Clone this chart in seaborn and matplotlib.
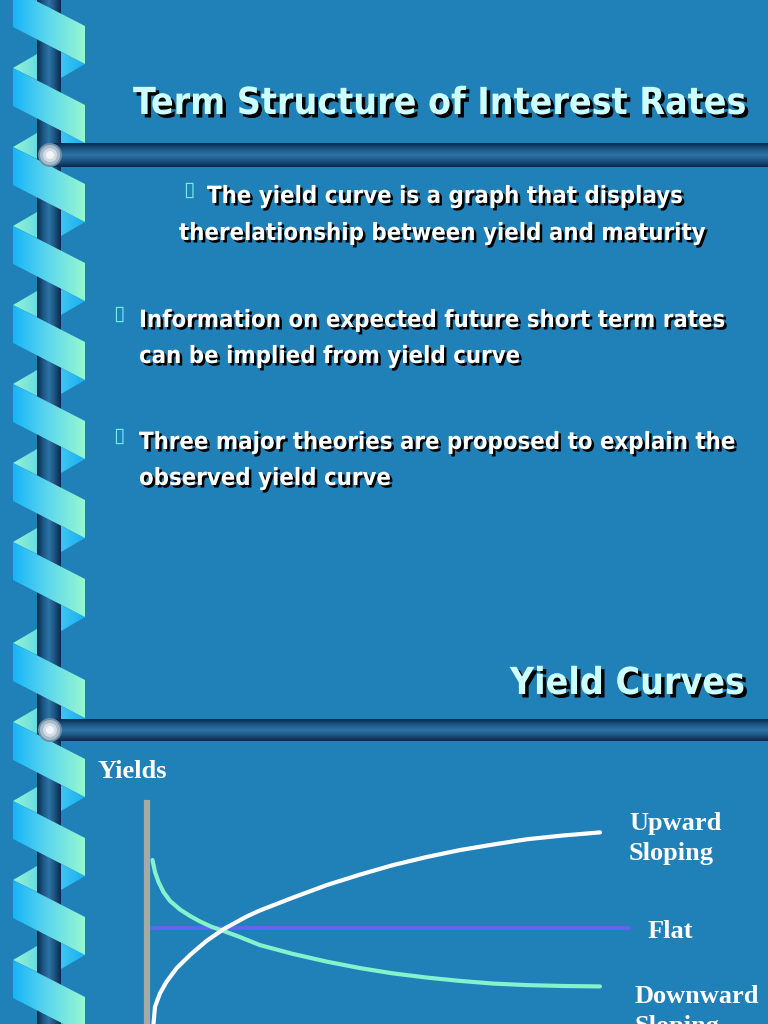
import matplotlib
matplotlib.use("Agg")
import matplotlib.pyplot as plt
import matplotlib.patheffects as pe
import numpy as np
import pandas as pd
import seaborn as sns
from matplotlib import font_manager
from matplotlib.colors import LinearSegmentedColormap
from matplotlib.patches import Circle, PathPatch
from matplotlib.path import Path


BG = "#2080b8"

TITLE = "Term Structure of Interest Rates"
SUBTITLE = "Yield Curves"
BULLET_LINES = [
    # (x_px, baseline_px, right_px, text, bullet_x_px)
    (207, 203, 678, "The yield curve is a graph that displays", 183),
    (179, 240, 706, "therelationship between yield and maturity", None),
    (139, 327, 720, "Information on expected future short term rates", 113),
    (139, 363, 520, "can be implied from yield curve", None),
    (139, 449, 733, "Three major theories are proposed to explain the", 113),
    (139, 485, 391, "observed yield curve", None),
]

# yield curves (maturity, yield), arbitrary units
UP_MAT = [0.13, 0.16, 0.26, 0.39, 0.59, 0.86, 1.19, 1.53, 1.99, 2.26,
          2.92, 3.60, 4.26, 4.92, 5.60, 6.26, 6.92, 7.60, 8.32, 9.06]
UP_YLD = [0.00, 0.78, 1.39, 1.91, 2.52, 3.12, 3.76, 4.29, 4.86, 5.14,
          5.72, 6.29, 6.76, 7.19, 7.56, 7.87, 8.12, 8.36, 8.53, 8.67]
DOWN_MAT = [0.11, 0.16, 0.23, 0.33, 0.46, 0.66, 0.86, 1.06, 1.29, 1.53, 1.83,
            2.26, 2.92, 3.60, 4.26, 4.92, 5.60, 6.26, 6.92, 7.60, 8.32, 9.06]
DOWN_YLD = [7.42, 6.88, 6.43, 5.97, 5.57, 5.18, 4.89, 4.64, 4.40, 4.21, 3.96,
            3.57, 3.17, 2.82, 2.53, 2.29, 2.10, 1.95, 1.83, 1.76, 1.72, 1.70]
FLAT_MAT = [0.09, 9.63]
FLAT_YLD = [4.33, 4.33]

CURVE_LABELS = [
    # (x_px, baseline_px, text)
    (629, 830, "Upward"),
    (629, 860, "Sloping"),
    (648, 938, "Flat"),
    (635, 1003, "Downward"),
    (635, 1033, "Sloping"),
]

RIBBON_TOPS_1 = [-11, 68, 147, 226, 305, 384, 463, 542]
RIBBON_TOPS_2 = [643, 722, 801, 880, 960, 1039]

SERIF_FONT = ["Liberation Serif", "DejaVu Serif"]


def head_font():
    # narrowest bold sans we can find, Impact is not around
    for fam, stretch in [("Liberation Sans Narrow", "normal"), ("DejaVu Sans", "condensed")]:
        try:
            path = font_manager.findfont(
                font_manager.FontProperties(family=fam, weight="bold", stretch=stretch),
                fallback_to_default=False)
        except ValueError:
            continue
        if fam != "DejaVu Sans" or "Condensed" in path:
            return dict(family=fam, stretch=stretch)
    return dict(family="DejaVu Sans", stretch="normal")


def ribbon_polys(tops):
    front, back = [], []
    for y0 in tops:
        front.append([(13, y0), (85, y0 + 37), (85, y0 + 75), (13, y0 + 38)])
        back.append([(13, y0), (37, y0 - 14), (37, y0 + 12)])
        back.append([(85, y0 + 75), (61, y0 + 63), (61, y0 + 89)])
    return front, back


def compound(polys, ax):
    paths = [Path(p + [p[0]], closed=True) for p in polys]
    return PathPatch(Path.make_compound_path(*paths), transform=ax.transData,
                     facecolor="none", edgecolor="none")


def draw_decor(bg):
    grad = np.linspace(0, 1, 256).reshape(1, -1)
    front_cmap = LinearSegmentedColormap.from_list("front", ["#18b4f8", "#60d8ec", "#96f8d0"])
    back_cmap = LinearSegmentedColormap.from_list("back", ["#96f4d0", "#50d0ee", "#18b0f4"])
    pole_cmap = LinearSegmentedColormap.from_list(
        "pole", ["#082a48", "#1a5686", "#2e74a4", "#1a5282", "#082a48"])

    front, back = ribbon_polys(RIBBON_TOPS_1 + RIBBON_TOPS_2)

    im = bg.imshow(grad, cmap=back_cmap, extent=(13, 85, 1024, 0), aspect="auto", zorder=1)
    im.set_clip_path(compound(back, bg))

    # vertical pole
    bg.imshow(grad, cmap=pole_cmap, extent=(37, 61, 1024, 0), aspect="auto", zorder=2)

    im = bg.imshow(grad, cmap=front_cmap, extent=(13, 85, 1024, 0), aspect="auto", zorder=3)
    im.set_clip_path(compound(front, bg))

    # horizontal bars with a knob at the pole
    for top, bottom, cy in [(143, 167, 155), (719, 741, 730)]:
        bg.imshow(grad.T, cmap=pole_cmap, extent=(50, 768, bottom, top), aspect="auto", zorder=4)
        for r, c in [(12, "#6f8fa8"), (10, "#a8bccc"), (7, "#d0dce6"), (4, "#f2f6fa")]:
            bg.add_patch(Circle((50, cy), r, facecolor=c, edgecolor="none", zorder=5))


def fit_width(fig, texts, widths):
    # scale a group of texts to one size so they span the widths seen in the slide
    renderer = fig.canvas.get_renderer()
    measured = sum(t.get_window_extent(renderer).width for t in texts)
    size = texts[0].get_fontsize() * sum(widths) / measured
    for t in texts:
        t.set_fontsize(size)


def draw_text(fig, bg):
    hf = head_font()
    shadow_big = [pe.SimplePatchShadow(offset=(2.5, -2.5), shadow_rgbFace="black", alpha=1.0), pe.Normal()]
    shadow_small = [pe.SimplePatchShadow(offset=(1.8, -1.8), shadow_rgbFace="black", alpha=1.0), pe.Normal()]

    heads = [
        bg.text(133, 114, TITLE, weight="bold", fontsize=35, color="#ccffff",
                va="baseline", ha="left", path_effects=shadow_big, zorder=6, **hf),
        bg.text(745, 694, SUBTITLE, weight="bold", fontsize=35, color="#ccffff",
                va="baseline", ha="right", path_effects=shadow_big, zorder=6, **hf),
    ]
    fit_width(fig, heads, [612, 237])

    lines = []
    for x, y, right, line, bx in BULLET_LINES:
        lines.append(bg.text(x, y, line, weight="bold", fontsize=22, color="white",
                             va="baseline", ha="left", path_effects=shadow_small, zorder=6, **hf))
        if bx is not None:
            bg.text(bx, y - 7, "\u25af", family="DejaVu Sans", fontsize=15,
                    color="#70eef0", va="baseline", ha="left", zorder=6)
    fit_width(fig, lines, [right - x for x, _, right, _, _ in BULLET_LINES])

    bg.text(98, 778, "Yields", family=SERIF_FONT, weight="bold", fontsize=19,
            color="white", va="baseline", ha="left", zorder=6)
    for x, y, label in CURVE_LABELS:
        bg.text(x, y, label, family=SERIF_FONT, weight="bold", fontsize=19,
                color="white", va="baseline", ha="left", zorder=6)


def draw_curves(fig):
    ax = fig.add_axes([147 / 768, 0, 500 / 768, 221 / 1024])
    ax.patch.set_alpha(0)
    flat = pd.DataFrame({"maturity": FLAT_MAT, "yield": FLAT_YLD})
    down = pd.DataFrame({"maturity": DOWN_MAT, "yield": DOWN_YLD})
    up = pd.DataFrame({"maturity": UP_MAT, "yield": UP_YLD})
    sns.lineplot(data=flat, x="maturity", y="yield", color="#6464f2", linewidth=2.8,
                 sort=False, estimator=None, ax=ax)
    sns.lineplot(data=down, x="maturity", y="yield", color="#84f2cc", linewidth=3.0,
                 sort=False, estimator=None, solid_capstyle="round",
                 solid_joinstyle="round", ax=ax)
    sns.lineplot(data=up, x="maturity", y="yield", color="white", linewidth=3.0,
                 sort=False, estimator=None, solid_capstyle="round",
                 solid_joinstyle="round", ax=ax)
    ax.set_xlim(0, 10)
    ax.set_ylim(0, 10)
    for side in ["top", "right", "bottom"]:
        ax.spines[side].set_visible(False)
    ax.spines["left"].set_color("#a8a8a8")
    ax.spines["left"].set_linewidth(4.5)
    ax.set_xticks([])
    ax.set_yticks([])
    ax.set_xlabel("")
    ax.set_ylabel("")


def main():
    sns.set_style("white")
    plt.rcParams["font.family"] = ["DejaVu Sans"]

    fig = plt.figure(figsize=(7.68, 10.24), dpi=100, facecolor=BG)
    bg = fig.add_axes([0, 0, 1, 1])
    bg.set_facecolor(BG)
    bg.set_xlim(0, 768)
    bg.set_ylim(1024, 0)
    bg.axis("off")

    draw_decor(bg)
    draw_text(fig, bg)
    draw_curves(fig)

    fig.savefig("out.png", dpi=100, facecolor=BG)
    plt.close(fig)


if __name__ == "__main__":
    main()
